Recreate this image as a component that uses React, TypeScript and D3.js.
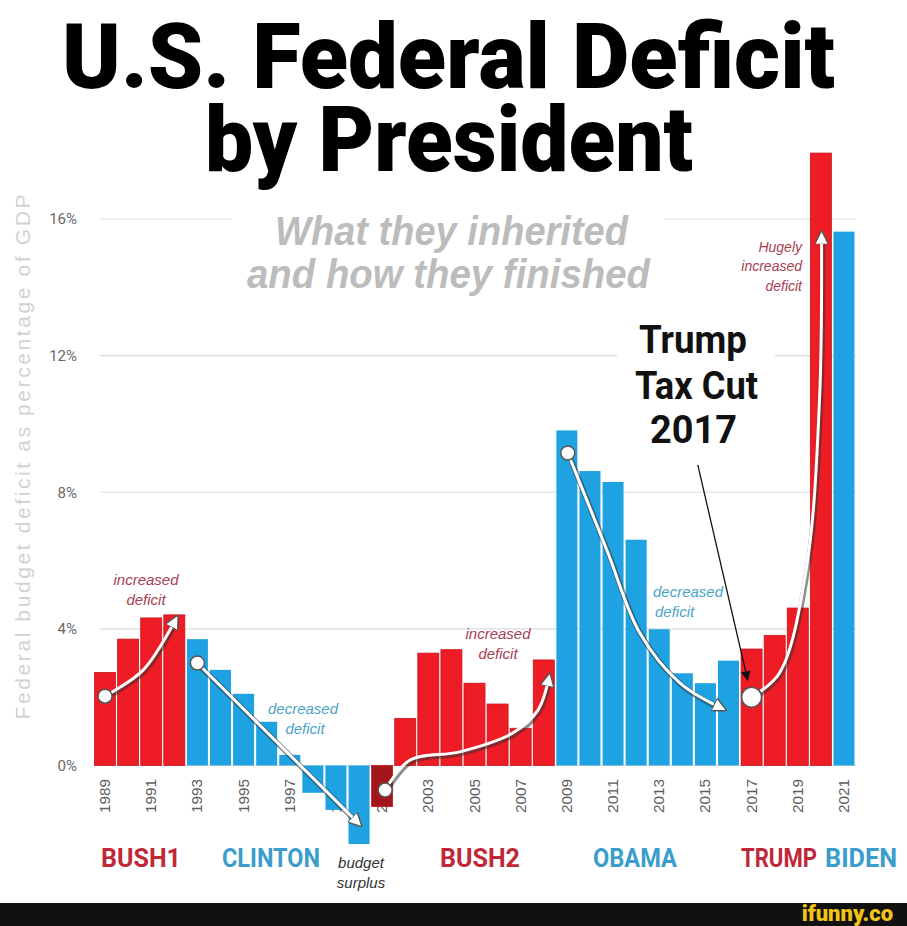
import * as d3 from "d3"

// Federal deficit as % of GDP, fiscal years 1989–2021
const years = [
  1989, 1990, 1991, 1992, 1993, 1994, 1995, 1996, 1997, 1998, 1999,
  2000, 2001, 2002, 2003, 2004, 2005, 2006, 2007, 2008, 2009, 2010,
  2011, 2012, 2013, 2014, 2015, 2016, 2017, 2018, 2019, 2020, 2021,
]
const deficit = [
  2.72, 3.7, 4.32, 4.41, 3.7, 2.8, 2.1, 1.28, 0.31, -0.8, -1.3,
  -2.3, -1.2, 1.38, 3.29, 3.39, 2.41, 1.8, 1.09, 3.09, 9.81, 8.62,
  8.3, 6.61, 3.99, 2.7, 2.41, 3.07, 3.41, 3.81, 4.61, 17.93, 15.63,
]
const yTicks = [0, 4, 8, 12, 16]

const presidents = ["BUSH1", "CLINTON", "BUSH2", "OBAMA", "TRUMP", "BIDEN"]
const termStart = [1989, 1993, 2001, 2009, 2017, 2021]
const party = ["R", "D", "R", "D", "R", "D"]
const shadedYears = [2001]

// trend arrows, as [year, % of GDP] points
const bush1Trend: [number, number][] = [[1989, 2.03], [1990.66, 2.8], [1992.05, 4.26]]
const clintonTrend: [number, number][] = [[1993, 3.0], [1999.96, -1.68]]
const bush2Trend: [number, number][] = [
  [2001.13, -0.72], [2002.21, 0.16], [2004.37, 0.4], [2006.66, 0.95], [2007.75, 1.62], [2008.22, 2.56],
]
const obamaTrend: [number, number][] = [
  [2009.04, 9.15], [2010.73, 6.31], [2012.16, 3.88], [2013.89, 2.42], [2015.7, 1.68],
]
const trumpTrend: [number, number][] = [
  [2017, 2.0], [2018.21, 2.71], [2019.38, 5.81], [2019.94, 10.7], [2020.03, 15.5],
]
const taxCutPointer: [number, number][] = [[2014.67, 8.8], [2016.83, 2.5]]

const RED = "#ee1c25"
const BLUE = "#1fa2e1"
const DARK_RED = "#a3161c"
const LABEL_RED = "#c0283a"
const LABEL_BLUE = "#3a9dcc"
const NOTE_RED = "#a8404f"
const NOTE_BLUE = "#4aa3c8"

const W = 907
const H = 926

function presidentIndex(year: number) {
  let idx = 0
  termStart.forEach((s, i) => {
    if (year >= s) idx = i
  })
  return idx
}

export default function App() {
  const x = d3.scaleBand<number>().domain(years).range([93.5, 855.5]).paddingInner(0.09).paddingOuter(0.045)
  const y = d3.scaleLinear().domain([0, 16]).range([765.5, 219])
  const bw = x.bandwidth()
  const xc = d3
    .scaleLinear()
    .domain([years[0], years[years.length - 1]])
    .range([(x(years[0]) ?? 0) + bw / 2, (x(years[years.length - 1]) ?? 0) + bw / 2])

  const curve = d3
    .line<[number, number]>()
    .x((d) => xc(d[0]))
    .y((d) => y(d[1]))
    .curve(d3.curveCatmullRom.alpha(0.5))

  const straight = d3
    .line<[number, number]>()
    .x((d) => xc(d[0]))
    .y((d) => y(d[1]))

  const barColor = (year: number) => {
    if (shadedYears.includes(year)) return DARK_RED
    return party[presidentIndex(year)] === "R" ? RED : BLUE
  }

  const trendArrow = (pts: [number, number][], smooth: boolean, r: number, key: string) => {
    const d = (smooth ? curve(pts) : straight(pts)) ?? ""
    return (
      <g key={key}>
        <path d={d} fill="none" stroke="#333" strokeOpacity={0.55} strokeWidth={5.5} transform="translate(1,1.5)" />
        <path d={d} fill="none" stroke="#fff" strokeWidth={3} markerEnd="url(#whiteHead)" />
        <circle cx={xc(pts[0][0])} cy={y(pts[0][1])} r={r} fill="#fff" stroke="#555" strokeWidth={1.5} />
      </g>
    )
  }

  const condensed = "Roboto, 'Liberation Sans', sans-serif"
  const italic = "'Liberation Sans', Arial, sans-serif"

  // president name labels under the axis
  const nameX = [141, 271, 480, 635, 779, 861]
  const nameLen = [80, 98, 80, 84, 76, 72]

  return (
    <svg width={W} height={H} style={{ position: "absolute", left: 0, top: 0, background: "#fff" }}>
      <defs>
        <marker id="whiteHead" viewBox="0 0 10 10" refX={6} refY={5} markerWidth={14} markerHeight={14} markerUnits="userSpaceOnUse" orient="auto">
          <path d="M0,0 L10,5 L0,10 z" fill="#fff" stroke="#555" strokeWidth={1} />
        </marker>
        <marker id="blackHead" viewBox="0 0 10 10" refX={9} refY={5} markerWidth={10} markerHeight={10} markerUnits="userSpaceOnUse" orient="auto">
          <path d="M0,0 L10,5 L0,10 z" fill="#111" />
        </marker>
      </defs>

      <rect width={W} height={H} fill="#fff" />

      {/* title, stretched vertically for a condensed look */}
      <g fontFamily={condensed} fontWeight={900} fill="#000" textAnchor="middle">
        <text x={448.5} y={0} fontSize={80} textLength={773} lengthAdjust="spacingAndGlyphs" transform="translate(0,88) scale(1,1.14)">
          U.S. Federal Deficit
        </text>
        <text x={449} y={0} fontSize={80} textLength={488} lengthAdjust="spacingAndGlyphs" transform="translate(0,171) scale(1,1.14)">
          by President
        </text>
      </g>

      {/* y axis title */}
      <text
        transform="translate(30,457) rotate(-90)"
        textAnchor="middle"
        fontFamily={italic}
        fontSize={21}
        fill="#d2d2d2"
        textLength={525}
        lengthAdjust="spacing"
      >
        Federal budget deficit as percentage of GDP
      </text>

      {/* gridlines and tick labels */}
      {yTicks.map((t) => (
        <g key={t}>
          <line x1={100} x2={856} y1={y(t)} y2={y(t)} stroke="#dcdcdc" strokeWidth={1.2} />
          <text x={77} y={y(t)} dy="0.35em" textAnchor="end" fontFamily={condensed} fontSize={15} fill="#6a6a6a">
            {t}%
          </text>
        </g>
      ))}

      {/* cut-outs behind the headings */}
      <rect x={232} y={200} width={433} height={100} fill="#fff" />
      <rect x={617} y={318} width={158} height={135} fill="#fff" />

      {/* year labels (every other year) */}
      {years
        .filter((yr) => yr % 2 === 1)
        .map((yr) => (
          <text
            key={yr}
            transform={`translate(${xc(yr) + 5},779) rotate(-90)`}
            textAnchor="end"
            fontFamily={italic}
            fontSize={15}
            fill="#5e5e5e"
            textLength={34}
            lengthAdjust="spacingAndGlyphs"
          >
            {yr}
          </text>
        ))}

      {/* bars */}
      {years.map((yr, i) => {
        const v = deficit[i]
        const top = y(Math.max(0, v))
        const h = Math.abs(y(v) - y(0))
        const fill = barColor(yr)
        return (
          <rect
            key={yr}
            x={x(yr)}
            y={top}
            width={bw}
            height={h}
            fill={fill}
            stroke={fill === BLUE ? "none" : "#c8141c"}
            strokeWidth={0.8}
          />
        )
      })}

      {/* trend arrows */}
      {trendArrow(bush1Trend, true, 7, "b1")}
      {trendArrow(clintonTrend, false, 7, "c")}
      {trendArrow(bush2Trend, true, 7, "b2")}
      {trendArrow(obamaTrend, true, 7, "o")}
      {trendArrow(trumpTrend, true, 10, "t")}

      {/* tax cut pointer */}
      <path d={straight(taxCutPointer) ?? ""} stroke="#111" strokeWidth={1.3} fill="none" markerEnd="url(#blackHead)" />

      {/* subtitle */}
      <g fontFamily={italic} fontStyle="italic" fontWeight={700} fontSize={40} fill="#bcbcbc" textAnchor="middle">
        <text x={451.5} y={245} textLength={353} lengthAdjust="spacingAndGlyphs">What they inherited</text>
        <text x={448.5} y={288} textLength={403} lengthAdjust="spacingAndGlyphs">and how they finished</text>
      </g>

      {/* trend notes */}
      <g fontFamily={italic} fontStyle="italic" fontSize={15}>
        <g fill={NOTE_RED} textAnchor="middle">
          <text x={146} y={585}>increased</text>
          <text x={146} y={605}>deficit</text>
          <text x={498} y={639}>increased</text>
          <text x={498} y={659}>deficit</text>
        </g>
        <g fill={NOTE_BLUE}>
          <text x={303} y={714} textAnchor="middle">decreased</text>
          <text x={305} y={734} textAnchor="middle">deficit</text>
          <text x={653} y={597}>decreased</text>
          <text x={655} y={617}>deficit</text>
        </g>
        <g fill={NOTE_RED} textAnchor="end" fontSize={14}>
          <text x={802} y={252}>Hugely</text>
          <text x={802} y={271}>increased</text>
          <text x={802} y={291}>deficit</text>
        </g>
      </g>

      {/* tax cut callout */}
      <g fontFamily={condensed} fontWeight={700} fill="#111" textAnchor="middle" fontSize={38}>
        <text x={693} y={353} textLength={108} lengthAdjust="spacingAndGlyphs">Trump</text>
        <text x={696.5} y={399} textLength={123} lengthAdjust="spacingAndGlyphs">Tax Cut</text>
        <text x={693.5} y={443} textLength={87} lengthAdjust="spacingAndGlyphs">2017</text>
      </g>

      {/* president names */}
      {presidents.map((p, i) => (
        <text
          key={p}
          x={nameX[i]}
          y={867}
          textAnchor="middle"
          fontFamily={condensed}
          fontWeight={700}
          fontSize={25}
          fill={party[i] === "R" ? LABEL_RED : LABEL_BLUE}
          textLength={nameLen[i]}
          lengthAdjust="spacingAndGlyphs"
        >
          {p}
        </text>
      ))}
      <g fontFamily={italic} fontStyle="italic" fontSize={15} fill="#333" textAnchor="middle">
        <text x={361} y={868}>budget</text>
        <text x={361} y={888}>surplus</text>
      </g>

      {/* footer band */}
      <rect x={0} y={903} width={W} height={H - 903} fill="#111" />
      <text x={893} y={921} textAnchor="end" fontFamily={condensed} fontWeight={900} fontSize={22} fill="#f3c316">
        ifunny.co
      </text>
    </svg>
  )
}
